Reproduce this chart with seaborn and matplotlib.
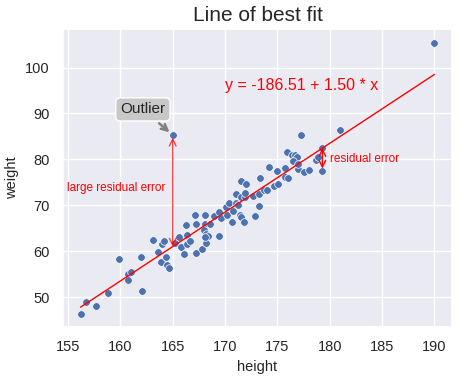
import matplotlib
matplotlib.use("Agg")
import matplotlib.pyplot as plt
import seaborn as sns
import pandas as pd

height = [156.2, 156.7, 157.7, 158.8, 159.9, 160.7, 161.0, 160.7, 162.0, 162.1,
          163.1, 163.6, 163.9, 164.0, 164.2, 164.4, 164.5, 164.6, 165.2, 165.6,
          165.8, 166.1, 166.4, 166.4, 166.7, 166.3, 167.1, 167.2, 167.2, 167.8,
          168.1, 168.1, 168.0, 168.2, 168.4, 168.2, 168.6, 168.9, 169.4, 169.4,
          169.6, 170.1, 170.2, 170.4, 170.7, 170.8, 171.0, 171.0, 171.2, 171.4,
          171.5, 171.8, 171.5, 171.9, 171.9, 171.5, 172.0, 172.7, 173.2, 173.3,
          173.2, 172.9, 173.7, 174.0, 174.2, 174.7, 175.1, 175.0, 175.7, 175.7,
          176.0, 175.9, 176.4, 176.7, 176.9, 176.5, 177.0, 177.5, 178.0, 178.7,
          178.9, 179.3, 179.3, 177.3, 181.0, 177.0, 165.0, 190.0, 168.1]
weight = [46.4, 48.9, 48.0, 50.9, 58.3, 55.0, 55.4, 53.8, 58.8, 51.4,
          62.4, 59.8, 57.6, 61.5, 62.1, 58.7, 56.9, 56.3, 61.7, 63.1,
          60.9, 59.4, 61.5, 63.5, 62.2, 65.7, 67.8, 65.9, 59.6, 60.4,
          67.8, 65.9, 64.5, 63.7, 63.4, 61.7, 65.9, 67.6, 63.3, 68.5,
          67.2, 69.7, 67.8, 70.4, 66.3, 68.7, 72.4, 70.4, 70.1, 67.9,
          67.5, 66.4, 71.7, 71.7, 72.7, 75.2, 74.7, 72.1, 72.4, 75.9,
          69.9, 67.6, 73.3, 73.3, 78.3, 74.2, 74.6, 77.5, 78.2, 76.2,
          75.9, 81.7, 80.9, 81.0, 80.6, 79.6, 77.8, 77.2, 77.6, 79.8,
          80.4, 82.4, 77.4, 85.4, 86.3, 79.0, 85.3, 105.4, 63.0]

intercept = -186.51
slope = 1.50
outlier = (165.0, 85.3)
resid_point = (179.3, 77.4)

df = pd.DataFrame({"height": height, "weight": weight})

sns.set_theme(style="darkgrid")
plt.rcParams["font.family"] = ["Liberation Sans", "DejaVu Sans"]

fig, ax = plt.subplots(figsize=(4.59, 3.79), dpi=100)
fig.subplots_adjust(left=0.137, right=0.985, top=0.923, bottom=0.137)

sns.scatterplot(data=df, x="height", y="weight", ax=ax, s=30,
                color="#4c72b0", edgecolor="white", linewidth=0.5, zorder=3)

xs = [min(height), max(height)]
ax.plot(xs, [intercept + slope * v for v in xs], color="red", lw=1.0, zorder=4)

ax.text(170, 95, "y = %.2f + %.2f * x" % (intercept, slope), color="red", fontsize=11.5)

# large residual arrow (outlier)
ox, oy = outlier
ax.annotate("", xy=(ox, oy), xytext=(ox, intercept + slope * ox),
            arrowprops=dict(arrowstyle="<->", color="red", lw=1.0, alpha=0.7,
                            shrinkA=0, shrinkB=2), zorder=5)
ax.text(154.9, 73, "large residual error", color="red", fontsize=8.5)

# small residual arrow
rx, ry = resid_point
ax.annotate("", xy=(rx, intercept + slope * rx), xytext=(rx, ry),
            arrowprops=dict(arrowstyle="<->", color="red", lw=1.0,
                            shrinkA=2, shrinkB=0), zorder=5)
ax.text(180, 79.5, "residual error", color="red", fontsize=8.5)

ax.annotate("Outlier", xy=(ox, oy), xytext=(160, 90), fontsize=11, color="#262626",
            bbox=dict(boxstyle="round,pad=0.3", fc="#c8c8c8", ec="white", lw=1),
            arrowprops=dict(arrowstyle="->", color="gray", lw=1.8, shrinkB=3))

ax.set_title("Line of best fit", fontsize=15)
ax.set_xlabel("height", fontsize=10.5)
ax.set_ylabel("weight", fontsize=10.5)
ax.tick_params(labelsize=10.5)
ax.set_xticks([155, 160, 165, 170, 175, 180, 185, 190])

fig.savefig("out.png", dpi=100)
